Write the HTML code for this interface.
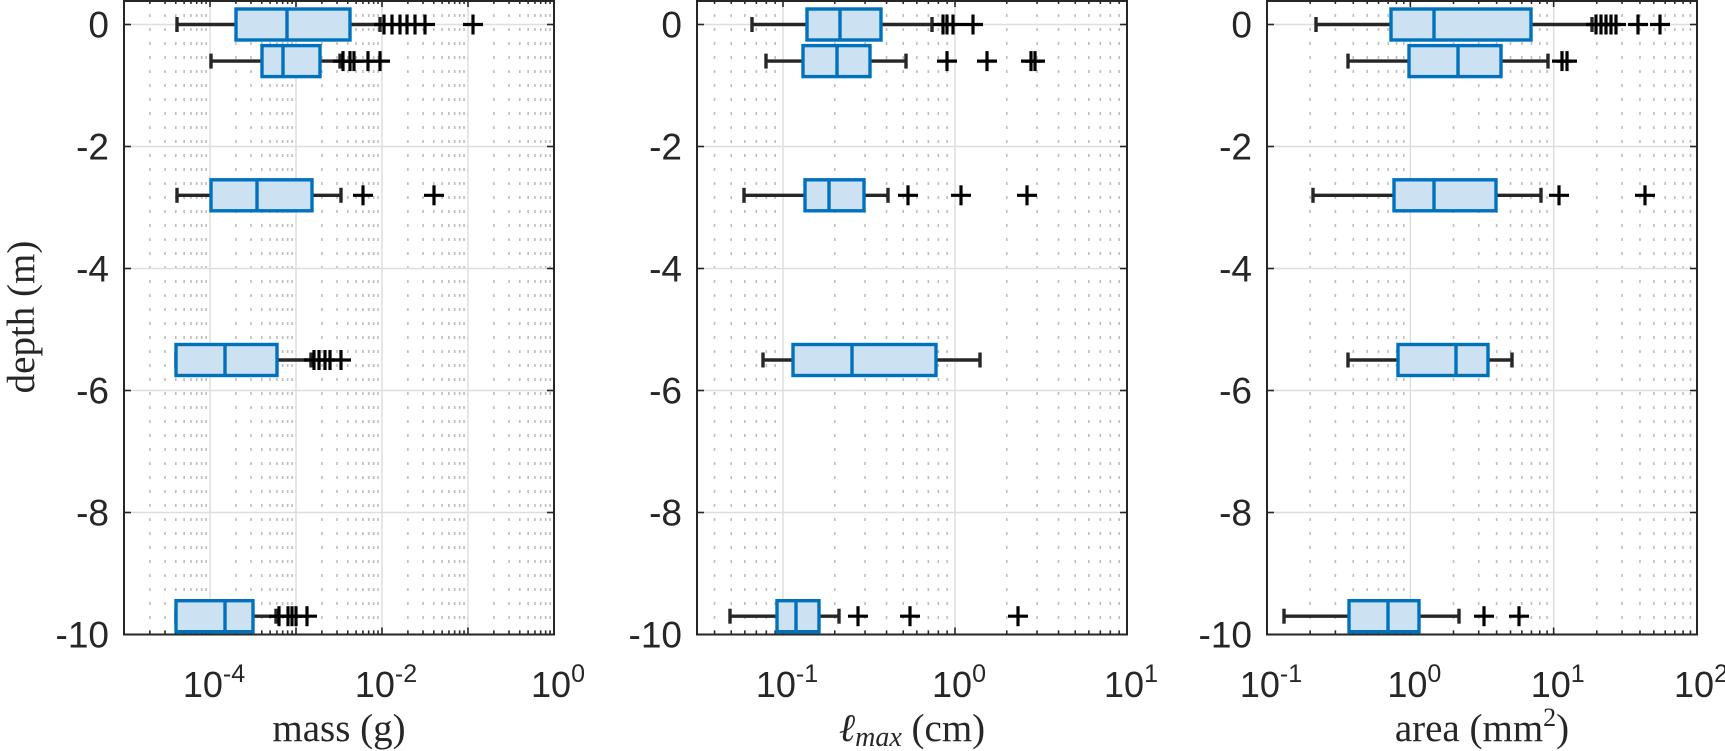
<!DOCTYPE html>
<html><head><meta charset="utf-8">
<style>html,body{margin:0;padding:0;background:#fff;}svg{display:block;}</style>
</head><body>
<svg id="s" xmlns="http://www.w3.org/2000/svg" width="1725" height="751" viewBox="0 0 1725 751"></svg>
<script>
const S=document.getElementById('s');
const NS='http://www.w3.org/2000/svg';
function el(t,a,p){const e=document.createElementNS(NS,t);for(const k in a)e.setAttribute(k,a[k]);(p||S).appendChild(e);return e;}
const Y0=24.5,YS=61,TOP=0,BOT=634.5;
const yv=v=>Y0-v*YS;
const panels=[
 {L:124,R:554,lo:-5,hi:0,labels:[[-4,'-4'],[-2,'-2'],[0,'0']],xl:'mass (g)',
  rows:[
   {y:0,w:[177,380],b:[236,350],m:287,o:[384,392,400,407,415,425,473]},
   {y:-0.6,w:[211,340],b:[262,320],m:283,o:[343,350,354,368,380]},
   {y:-2.8,w:[177,341],b:[211,312],m:257,o:[363,434]},
   {y:-5.5,w:[176,311],b:[176,277],m:225,o:[314,319,325,330,341]},
   {y:-9.7,w:[176,276],b:[176,253],m:225,o:[279,288,292,296,307]}]},
 {L:697,R:1127,lo:-1.5,hi:1,labels:[[-1,'-1'],[0,'0'],[1,'1']],xl:'lmax',
  rows:[
   {y:0,w:[752,932],b:[807,881],m:840,o:[943,947,953,973]},
   {y:-0.6,w:[766,906],b:[803,870],m:837,o:[947,987,1031,1035]},
   {y:-2.8,w:[744,888],b:[805,864],m:829,o:[908,961,1027]},
   {y:-5.5,w:[763,980],b:[793,936],m:852,o:[]},
   {y:-9.7,w:[730,839],b:[777,819],m:796,o:[858,910,1018]}]},
 {L:1267,R:1697,lo:-1,hi:2,labels:[[-1,'-1'],[0,'0'],[1,'1'],[2,'2']],xl:'area',
  rows:[
   {y:0,w:[1316,1592],b:[1391,1531],m:1434,o:[1596,1601,1606,1611,1616,1638,1660]},
   {y:-0.6,w:[1348,1548],b:[1409,1501],m:1458,o:[1562,1567]},
   {y:-2.8,w:[1313,1541],b:[1394,1496],m:1434,o:[1559,1645]},
   {y:-5.5,w:[1348,1512],b:[1398,1488],m:1456,o:[]},
   {y:-9.7,w:[1284,1459],b:[1349,1419],m:1388,o:[1484,1519]}]}
];
const DK='#262626';
panels.forEach(P=>{
  const xs=v=>P.L+(v-P.lo)/(P.hi-P.lo)*(P.R-P.L);
  for(let d=Math.floor(P.lo);d<P.hi;d++){for(let k=2;k<=9;k++){const lv=d+Math.log10(k);if(lv<P.lo||lv>P.hi)continue;const x=xs(lv);
    el('line',{x1:x,y1:TOP,x2:x,y2:BOT,stroke:'#bdbdbd','stroke-width':1.6,'stroke-dasharray':'3 11'});
    el('line',{x1:x,y1:BOT,x2:x,y2:BOT-4,stroke:DK,'stroke-width':1.5});
    el('line',{x1:x,y1:TOP,x2:x,y2:TOP+4,stroke:DK,'stroke-width':1.5});}}
  for(let d=Math.ceil(P.lo);d<=P.hi;d++){const x=xs(d);
    el('line',{x1:x,y1:TOP,x2:x,y2:BOT,stroke:'#dedede','stroke-width':1.5});
    el('line',{x1:x,y1:BOT,x2:x,y2:BOT-7,stroke:DK,'stroke-width':1.6});
    el('line',{x1:x,y1:TOP,x2:x,y2:TOP+7,stroke:DK,'stroke-width':1.6});}
  for(let v=0;v>=-10;v-=2){const y=yv(v);
    el('line',{x1:P.L,y1:y,x2:P.R,y2:y,stroke:'#dedede','stroke-width':1.5});
    el('line',{x1:P.L,y1:y,x2:P.L+7,y2:y,stroke:DK,'stroke-width':1.6});
    el('line',{x1:P.R,y1:y,x2:P.R-7,y2:y,stroke:DK,'stroke-width':1.6});
    const t=el('text',{x:P.L-15,y:y+13,'text-anchor':'end','font-family':'Liberation Sans, sans-serif','font-size':37,fill:DK});t.textContent=String(v);}
  P.rows.forEach(r=>{const y=yv(r.y),h=15.5;
    el('line',{x1:r.w[0],y1:y,x2:r.w[1],y2:y,stroke:DK,'stroke-width':3.4});
    el('line',{x1:r.w[0],y1:y-7.5,x2:r.w[0],y2:y+7.5,stroke:DK,'stroke-width':3.4});
    el('line',{x1:r.w[1],y1:y-7.5,x2:r.w[1],y2:y+7.5,stroke:DK,'stroke-width':3.4});
    el('rect',{x:r.b[0],y:y-h,width:r.b[1]-r.b[0],height:2*h,fill:'#cce2f2',stroke:'#0072BD','stroke-width':3.4});
    el('line',{x1:r.m,y1:y-h,x2:r.m,y2:y+h,stroke:'#0072BD','stroke-width':3.4});
    r.o.forEach(x=>{el('line',{x1:x-10,y1:y,x2:x+10,y2:y,stroke:'#000','stroke-width':3.2});el('line',{x1:x,y1:y-10,x2:x,y2:y+10,stroke:'#000','stroke-width':3.2});});
  });
  el('rect',{x:P.L,y:TOP+1,width:P.R-P.L,height:BOT-TOP-1,fill:'none',stroke:DK,'stroke-width':2});
  P.labels.forEach(([v,e])=>{const t=el('text',{x:xs(v)+4,y:697,'text-anchor':'middle','font-family':'Liberation Sans, sans-serif','font-size':36,fill:DK});
    t.appendChild(document.createTextNode('10'));const ts=el('tspan',{dy:-15,'font-size':25},t);ts.textContent=e;});
  const cx=(P.L+P.R)/2;
  const t=el('text',{x:cx,y:741,'text-anchor':'middle','font-family':'Liberation Serif, serif','font-size':39,fill:DK});
  if(P.xl==='lmax'){const a=el('tspan',{'font-style':'italic'},t);a.textContent='ℓ';const b=el('tspan',{'font-style':'italic','font-size':28,dy:5},t);b.textContent='max';const c=el('tspan',{dy:-5},t);c.textContent=' (cm)';}
  else if(P.xl==='area'){t.appendChild(document.createTextNode('area (mm'));const s=el('tspan',{dy:-15,'font-size':26},t);s.textContent='2';const c=el('tspan',{dy:15},t);c.textContent=')';}
  else t.textContent=P.xl;
});
const yl=el('text',{x:0,y:0,transform:'translate(34,317) rotate(-90)','text-anchor':'middle','font-family':'Liberation Serif, serif','font-size':39,fill:DK});yl.textContent='depth (m)';
</script>
</body></html>
